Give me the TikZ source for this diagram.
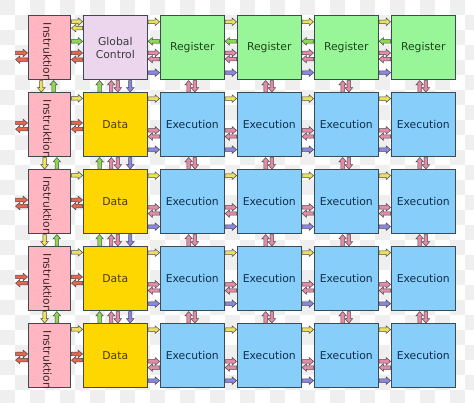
\documentclass[tikz,border=0pt]{standalone}
\usepackage{fontspec}
\setmainfont{DejaVu Sans}
\usetikzlibrary{calc}
\definecolor{chk}{HTML}{EFEFEF}
\definecolor{bordc}{HTML}{3C4A52}
\definecolor{arrc}{HTML}{4A4A50}
\definecolor{pinkc}{HTML}{FFB6C1}
\definecolor{pinkt}{HTML}{3A2A2E}
\definecolor{lavc}{HTML}{EBD6EE}
\definecolor{lavt}{HTML}{3E3A40}
\definecolor{grnc}{HTML}{98F598}
\definecolor{grnt}{HTML}{1C461C}
\definecolor{goldc}{HTML}{FFD700}
\definecolor{goldt}{HTML}{4A3A08}
\definecolor{bluec}{HTML}{87CEFA}
\definecolor{bluet}{HTML}{112E4C}
\definecolor{ayel}{HTML}{EDE05A}
\definecolor{agrn}{HTML}{8FD94F}
\definecolor{ared}{HTML}{E8674A}
\definecolor{apnk}{HTML}{E68AA8}
\definecolor{apur}{HTML}{8C86E0}
% fat outlined arrow from #2 to #3, fill colour #1
\newcommand\farr[3]{%
  \coordinate (as) at (#2);
  \coordinate (ae) at (#3);
  \coordinate (ah) at ($(ae)!4.4pt!(as)$);
  \filldraw[fill=#1, arrowline]
    ($(as)!1.7pt!-90:(ae)$) -- ($(ah)!1.7pt!-90:(ae)$) -- ($(ah)!3.8pt!-90:(ae)$) -- (ae)
    -- ($(ah)!3.8pt!90:(ae)$) -- ($(ah)!1.7pt!90:(ae)$) -- ($(as)!1.7pt!90:(ae)$) -- cycle;}
% horizontal: right / left pointing between boxes #2 and #3, offset #4 below top
\newcommand\hR[4]{\farr{#1}{$(#2.north east)+(0.3,#4)$}{$(#3.north west)+(-0.3,#4)$}}
\newcommand\hL[4]{\farr{#1}{$(#3.north west)+(-0.3,#4)$}{$(#2.north east)+(0.3,#4)$}}
% outside left of box #2
\newcommand\lR[3]{\farr{#1}{$(#2.north west)+(-12.3,#3)$}{$(#2.north west)+(-0.3,#3)$}}
\newcommand\lL[3]{\farr{#1}{$(#2.north west)+(-0.3,#3)$}{$(#2.north west)+(-12.3,#3)$}}
% vertical: down / up between box #2 (above) and #3 (below), offset #4 from left
\newcommand\vD[4]{\farr{#1}{$(#2.south west)+(#4,0.3)$}{$(#3.north west)+(#4,-0.3)$}}
\newcommand\vU[4]{\farr{#1}{$(#3.north west)+(#4,-0.3)$}{$(#2.south west)+(#4,0.3)$}}
\begin{document}
\begin{tikzpicture}[x=1pt,y=-1pt,
  box/.style={draw=bordc, line width=0.9pt, minimum width=64pt, minimum height=64pt,
    inner sep=0pt, align=center, font=\fontsize{10.8}{13.3}\selectfont},
  ibox/.style={box, fill=pinkc, minimum width=42.4pt},
  gbox/.style={box, fill=lavc, text=lavt},
  rbox/.style={box, fill=grnc, text=grnt},
  dbox/.style={box, fill=goldc, text=goldt},
  ebox/.style={box, fill=bluec, text=bluet},
  itext/.style={rotate=-90, anchor=west, inner sep=0pt, text=pinkt,
    font=\fontsize{10.8}{13.3}\selectfont},
  arrowline/.style={draw=arrc, line width=0.5pt, line join=miter}]
\useasboundingbox (0,0) rectangle (474,403);
% transparency checker background
\foreach \i in {0,...,31} {\foreach \j in {0,...,26} {
  \pgfmathtruncatemacro\k{mod(\i+\j,2)}
  \ifnum\k=0 \fill[chk] (\i*15,\j*15) rectangle ++(15,15); \fi }}
% boxes
\foreach \r in {1,...,5} {
  \pgfmathsetmacro\yc{47.8+77*(\r-1)}
  \node[ibox] (I\r) at (49.5,\yc) {};
  \begin{scope}
    \clip (I\r.south west) rectangle (I\r.north east);
    \node[itext] (T\r) at ($(I\r.north)+(-2,7.3)$) {Instruktion};
  \end{scope}
}
\node[gbox] (C11) at (115.3,47.8) {Global\\Control};
\foreach \c in {2,...,5} {
  \pgfmathsetmacro\xc{115.3+77*(\c-1)}
  \node[rbox] (C1\c) at (\xc,47.8) {Register};
}
\foreach \r in {2,...,5} {
  \pgfmathsetmacro\yc{47.8+77*(\r-1)}
  \node[dbox] (C\r1) at (115.3,\yc) {Data};
  \foreach \c in {2,...,5} {
    \pgfmathsetmacro\xc{115.3+77*(\c-1)}
    \node[ebox] (C\r\c) at (\xc,\yc) {Execution};
  }
}
% row 1 horizontal arrows
\lR{ared}{I1}{37.6} \lL{ared}{I1}{44.3}
\hR{ayel}{I1}{C11}{6.3} \hL{ayel}{I1}{C11}{12.8} \hR{agrn}{I1}{C11}{26}
\hR{ared}{I1}{C11}{37.6} \hL{ared}{I1}{C11}{44.3}
\foreach \c/\n in {1/2,2/3,3/4,4/5} {
  \hR{ayel}{C1\c}{C1\n}{6.5} \hL{agrn}{C1\c}{C1\n}{26}
  \hR{apnk}{C1\c}{C1\n}{37.6} \hL{apnk}{C1\c}{C1\n}{43.8}
  \hR{apur}{C1\c}{C1\n}{57.3}
}
% rows 2-5 horizontal arrows
\foreach \r in {2,...,5} {
  \lR{ared}{I\r}{30.6} \lL{ared}{I\r}{36.8}
  \hR{ayel}{I\r}{C\r1}{6} \hR{ared}{I\r}{C\r1}{30.6} \hL{ared}{I\r}{C\r1}{36.8}
  \foreach \c/\n in {1/2,2/3,3/4,4/5} {
    \hR{ayel}{C\r\c}{C\r\n}{6.3}
    \hR{apnk}{C\r\c}{C\r\n}{38} \hL{apnk}{C\r\c}{C\r\n}{44.2}
    \hR{apur}{C\r\c}{C\r\n}{57.3}
  }
}
% vertical arrows
\vD{ayel}{I1}{I2}{13.4} \vU{agrn}{I1}{I2}{25.7}
\foreach \r/\n in {2/3,3/4,4/5} {
  \vD{ayel}{I\r}{I\n}{16.7} \vU{agrn}{I\r}{I\n}{29}
}
\foreach \r/\n in {1/2,2/3,3/4,4/5} {
  \vU{agrn}{C\r1}{C\n1}{16.7} \vU{apnk}{C\r1}{C\n1}{28.4}
  \vD{apnk}{C\r1}{C\n1}{35} \vD{apur}{C\r1}{C\n1}{47.4}
  \foreach \c in {2,...,5} {
    \vU{apnk}{C\r\c}{C\n\c}{28.8} \vD{apnk}{C\r\c}{C\n\c}{35}
  }
}
\end{tikzpicture}
\end{document}
